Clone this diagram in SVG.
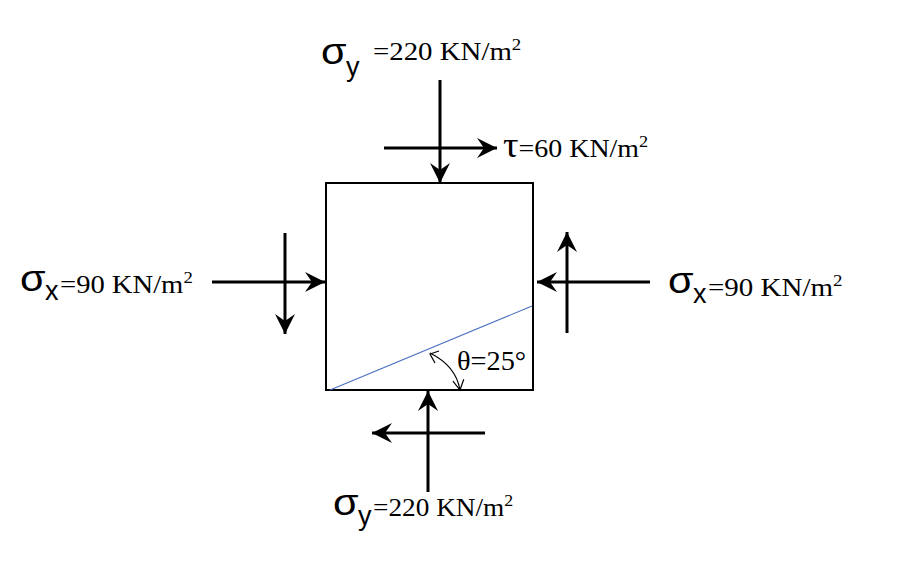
<svg xmlns="http://www.w3.org/2000/svg" width="910" height="564" viewBox="0 0 910 564">
<style>
.a{fill:none;stroke:#000;stroke-width:3}
.s{font-family:"Liberation Sans",Arial,sans-serif;font-size:37px;fill:#000}
.b{font-family:"Liberation Sans",Arial,sans-serif;font-size:27px;fill:#000}
.t{font-family:"Liberation Serif","Times New Roman",serif;font-size:26px;fill:#000}
.u{font-size:17px}
</style>
<defs>
<marker id="h" markerUnits="userSpaceOnUse" markerWidth="24" markerHeight="24" viewBox="0 0 24 24" refX="20" refY="12" orient="auto">
<path d="M0 2L20 12L0 22L7 12Z" fill="#000"/>
</marker>
<marker id="o" markerUnits="userSpaceOnUse" markerWidth="14" markerHeight="14" viewBox="0 0 14 14" refX="12" refY="7" orient="auto">
<path d="M2 1.500L12 7L2 12.500" fill="none" stroke="#000" stroke-width="1.200"/>
</marker>
</defs>
<g id="element">
<rect x="326" y="183" width="207" height="207" fill="#fff" stroke="#000" stroke-width="2"/>
</g>
<g id="plane">
<line x1="330" y1="390" x2="532" y2="306" stroke="#4a6fc0" stroke-width="1.100"/>
</g>
<g id="connectors">
<line class="a" x1="440" y1="80" x2="440" y2="183" marker-end="url(#h)"/>
<line class="a" x1="384" y1="148" x2="497" y2="148" marker-end="url(#h)"/>
<line class="a" x1="212" y1="282" x2="325" y2="282" marker-end="url(#h)"/>
<line class="a" x1="285" y1="233" x2="285" y2="334" marker-end="url(#h)"/>
<line class="a" x1="650" y1="282" x2="537" y2="282" marker-end="url(#h)"/>
<line class="a" x1="567" y1="333" x2="567" y2="232" marker-end="url(#h)"/>
<line class="a" x1="428" y1="492" x2="428" y2="391" marker-end="url(#h)"/>
<line class="a" x1="485" y1="433" x2="372" y2="433" marker-end="url(#h)"/>
<path d="M430 353Q456 366 460 390" fill="none" stroke="#000" stroke-width="1.200" marker-end="url(#o)"/>
<path d="M439 351L430 354L435 363" fill="none" stroke="#000" stroke-width="1.200"/>
</g>
<g id="sigma-y-top">
<text class="s" transform="translate(321 64) scale(1.12 1)">σ</text><text class="b" x="346" y="76">y</text>
<text class="t" transform="translate(373 60) scale(1.11 1)">=220 KN/m<tspan class="u" dy="-10">2</tspan></text>
</g>
<g id="tau">
<text class="t" transform="translate(503 157) scale(1.075 1)"><tspan font-size="36">τ</tspan>=60 KN/m<tspan class="u" dy="-10">2</tspan></text>
</g>
<g id="sigma-x-left">
<text class="s" transform="translate(20 291) scale(1.12 1)">σ</text><text class="b" x="45" y="300">x</text>
<text class="t" transform="translate(60 293) scale(1.1 1)">=90 KN/m<tspan class="u" dy="-10">2</tspan></text>
</g>
<g id="sigma-x-right">
<text class="s" transform="translate(668 293) scale(1.12 1)">σ</text><text class="b" x="693" y="303">x</text>
<text class="t" transform="translate(708 296) scale(1.115 1)">=90 KN/m<tspan class="u" dy="-10">2</tspan></text>
</g>
<g id="sigma-y-bottom">
<text class="s" transform="translate(333 515) scale(1.12 1)">σ</text><text class="b" x="358" y="525">y</text>
<text class="t" transform="translate(373 516) scale(1.05 1)">=220 KN/m<tspan class="u" dy="-10">2</tspan></text>
</g>
<g id="theta">
<text class="t" transform="translate(457 370) scale(1.09 1.05)">θ=25°</text>
</g>
</svg>
